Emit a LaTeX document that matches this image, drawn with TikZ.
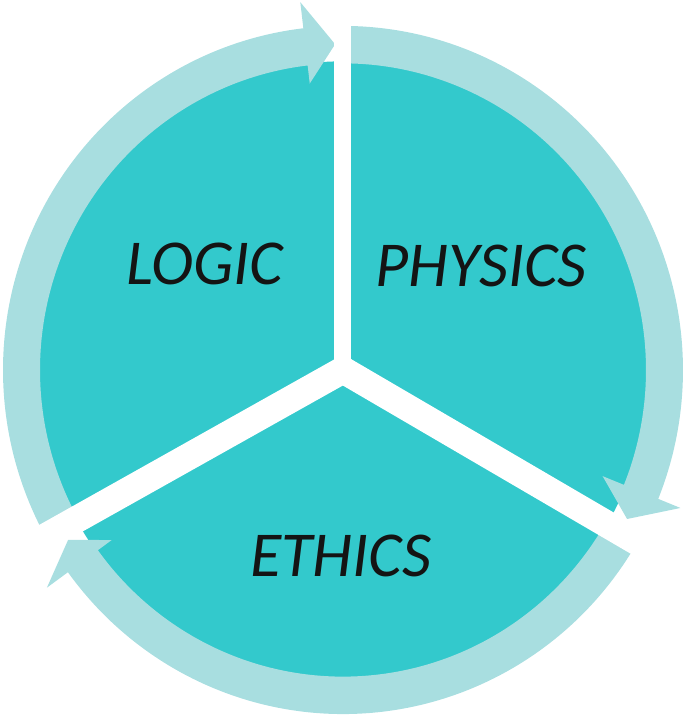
\documentclass[tikz,border=0pt]{standalone}
\usepackage{fontspec}
\setmainfont{Carlito}
\definecolor{discteal}{RGB}{51,201,204}
\definecolor{ringlight}{RGB}{168,222,224}
\begin{document}
\begin{tikzpicture}[x=1pt,y=1.012pt,
  disc/.style={fill=discteal},
  ringarrow/.style={fill=ringlight},
  gapband/.style={draw=white,line cap=round},
  wordlabel/.style={font=\fontsize{64}{70}\selectfont\itshape,text=black!92,inner sep=0pt,anchor=base}]
\useasboundingbox (-343,-343.9) rectangle (342,365.6);
\coordinate (c) at (0,0);
\coordinate (gtop) at (90:390);
\coordinate (gleft) at (209:420);
\coordinate (gright) at (-30:420);
% disc
\fill[disc] (c) circle[radius=305];
% arrow 1 (lower left -> top)
\fill[ringarrow] (209:340) arc[start angle=209,end angle=96.7,radius=340]
  -- (96.7:366) -- (91.4:322) -- (96.7:285)
  -- (96.7:303) arc[start angle=96.7,end angle=209,radius=303] -- cycle;
% arrow 2 (top -> lower right)
\fill[ringarrow] (90.5:340) arc[start angle=90.5,end angle=-22,radius=340]
  -- (-22:364) -- (-27.4:320) -- (-22:280)
  -- (-22:303) arc[start angle=-22,end angle=90.5,radius=303] -- cycle;
% arrow 3 (lower right -> lower left)
\fill[ringarrow] (-30:340) arc[start angle=-30,end angle=-144,radius=340]
  -- (-144:366) -- (-148.6:322) -- (-144:286)
  -- (-144:303) arc[start angle=-144,end angle=-30,radius=303] -- cycle;
% gaps
\draw[gapband,line width=17pt] (c) -- (gtop);
\draw[gapband,line width=27pt] (c) -- (gleft);
\draw[gapband,line width=27pt] (c) -- (gright);
% labels
\node[wordlabel] (logic) at (-138,84) {LOGIC};
\node[wordlabel] (physics) at (138,82) {PHYSICS};
\node[wordlabel] (ethics) at (-2,-204.5) {ETHICS};
\end{tikzpicture}
\end{document}
